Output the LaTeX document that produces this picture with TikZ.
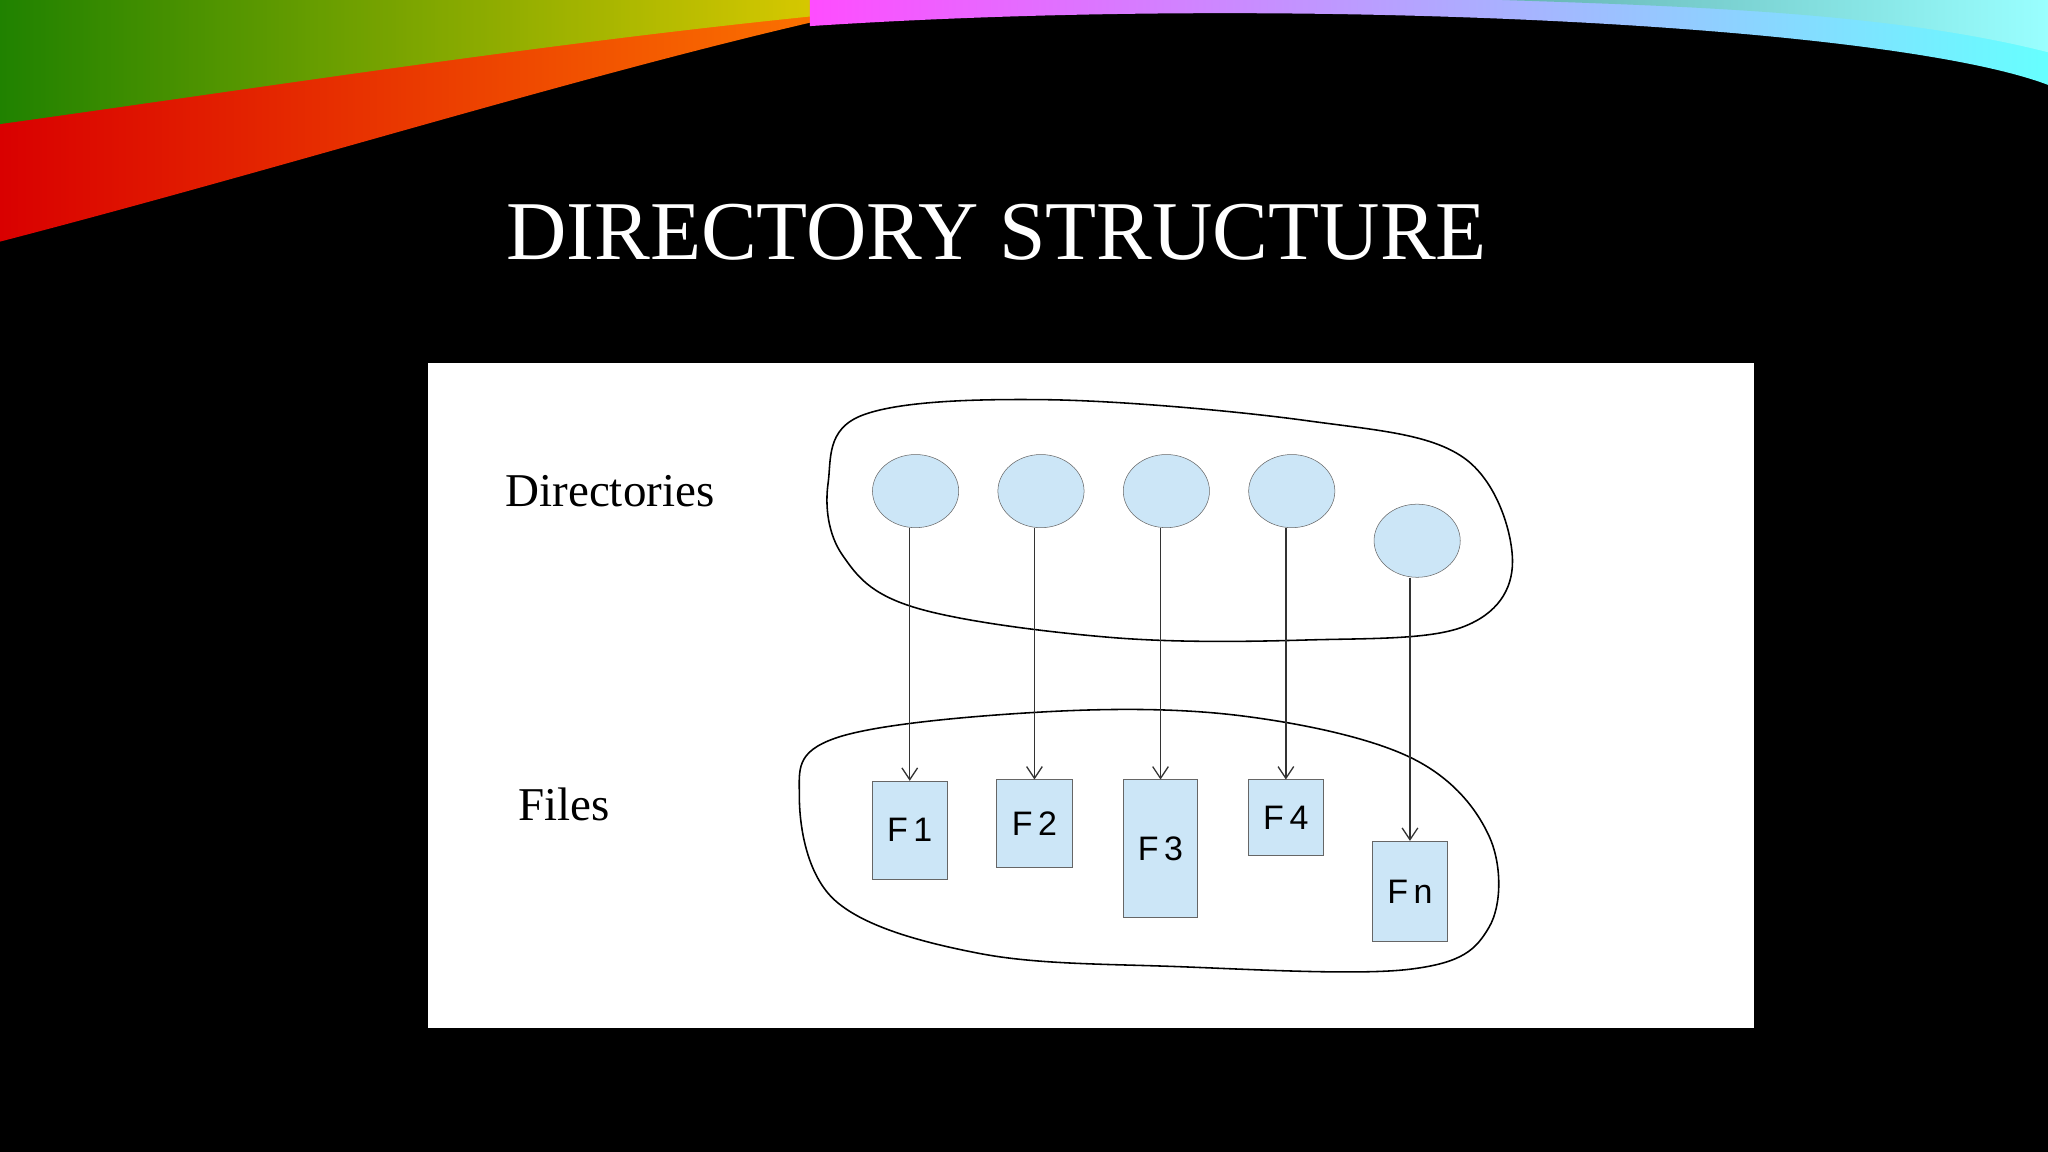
\documentclass[tikz,border=0pt]{standalone}
\usepackage{fontspec}
\setmainfont{Liberation Serif}
\setsansfont{Liberation Sans}
\usetikzlibrary{arrows.meta,shapes.geometric}
\definecolor{boxblue}{RGB}{204,230,247}
\tikzset{
  dirnode/.style={ellipse,draw=black!60,fill=boxblue,minimum width=66pt,minimum height=56pt,inner sep=0pt},
  filenode/.style={draw=black!60,fill=boxblue,inner sep=0pt,font=\sffamily\fontsize{26}{28}\selectfont},
  link/.style={draw=black!80,line width=1pt,-{Straight Barb[length=9pt,width=12pt]}},
  blob/.style={draw=black,line width=1.2pt}
}
\begin{document}
\begin{tikzpicture}[x=1pt,y=-1pt]
\useasboundingbox (0,0) rectangle (1568,882);
\fill[black] (0,0) rectangle (1568,882);
% banner
\shade[left color=red!85!black,right color=orange] (0,0) -- (700,0) .. controls (500,40) and (250,120) .. (0,185) -- cycle;
\shade[left color=green!60!black,right color=yellow!80!orange,opacity=0.85] (0,0) -- (760,0) .. controls (500,20) and (250,60) .. (0,95) -- cycle;
\shade[left color=magenta!70,right color=cyan!60] (620,0) -- (1568,0) -- (1568,65) .. controls (1450,20) and (1000,-5) .. (620,20) -- cycle;
\shade[left color=teal!60,right color=cyan!40!white] (1150,0) -- (1568,0) -- (1568,40) .. controls (1450,10) and (1300,5) .. (1150,0) -- cycle;
\node[text=white,font=\fontsize{64}{70}\selectfont] (title) at (763,178) {DIRECTORY STRUCTURE};
% panel
\fill[white] (328,278) rectangle (1343,787);
\node[font=\fontsize{36}{40}\selectfont] (ldir) at (467,376) {Directories};
\node[font=\fontsize{36}{40}\selectfont] (lfiles) at (432,616) {Files};
\draw[blob] plot[smooth cycle,tension=0.6] coordinates {(634,370) (660,318) (800,306) (1000,322) (1120,350) (1158,430) (1120,480) (1000,490) (850,488) (700,465) (645,425)};
\draw[blob] plot[smooth cycle,tension=0.6] coordinates {(612,610) (640,565) (800,545) (950,548) (1080,580) (1140,640) (1140,710) (1080,742) (900,740) (750,730) (640,690)};
\foreach \i/\x/\y in {1/701/376,2/797/376,3/893/376,4/989/376,5/1085/414}
  \node[dirnode] (d\i) at (\x,\y) {};
\node[filenode,minimum width=57pt,minimum height=75pt] (f1) at (696.5,635.5) {F\,1};
\node[filenode,minimum width=58pt,minimum height=67pt] (f2) at (792,630.5) {F\,2};
\node[filenode,minimum width=57pt,minimum height=105pt] (f3) at (888.5,649.5) {F\,3};
\node[filenode,minimum width=57pt,minimum height=58pt] (f4) at (984.5,626) {F\,4};
\node[filenode,minimum width=57pt,minimum height=77pt] (fn) at (1079.5,682.5) {F\,n};
\draw[link] (d1.south -| f1.north) -- (f1.north);
\draw[link] (d2.south -| f2.north) -- (f2.north);
\draw[link] (d3.south -| f3.north) -- (f3.north);
\draw[link] (d4.south -| f4.north) -- (f4.north);
\draw[link] (d5.south -| fn.north) -- (fn.north);
\end{tikzpicture}
\end{document}
